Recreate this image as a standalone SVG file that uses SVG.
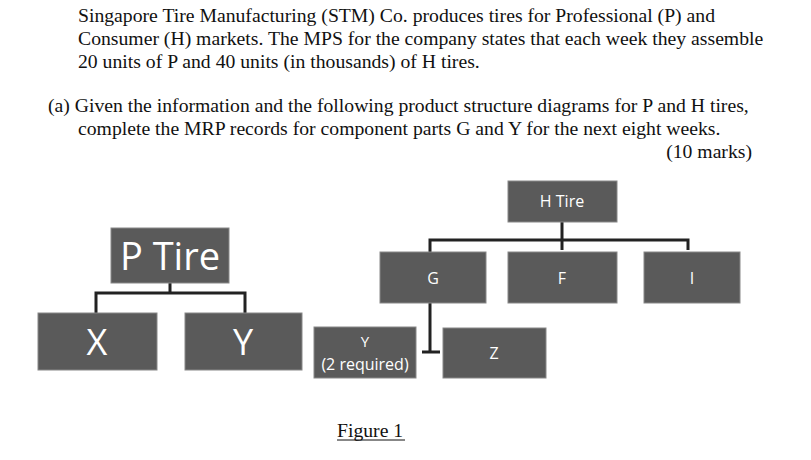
<svg xmlns="http://www.w3.org/2000/svg" width="811" height="460" viewBox="0 0 811 460">
<style>
.t{font-family:"Liberation Serif",serif;font-size:19.7px;fill:#111}
.b{fill:#5a5a5a;stroke:#888;stroke-width:1}
.l{font-family:"Open Sans","DejaVu Sans",sans-serif;fill:#fff;text-anchor:middle}
.c{stroke:#222;stroke-width:3;fill:none}
</style>
<rect width="811" height="460" fill="#fff"/>
<text class="t" x="78" y="22">Singapore Tire Manufacturing (STM) Co. produces tires for Professional (P) and</text>
<text class="t" x="78" y="45">Consumer (H) markets.  The MPS for the company states that each week they assemble</text>
<text class="t" x="78" y="68">20 units of P and 40 units (in thousands) of H tires.</text>
<text class="t" x="48" y="112">(a)  Given the information and the following product structure diagrams for P and H tires,</text>
<text class="t" x="78" y="135">complete the MRP records for component parts G and Y for the next eight weeks.</text>
<text class="t" x="752" y="158" text-anchor="end">(10 marks)</text>
<g id="connectors">
<path class="c" d="M170 283V293M96 313V293H245V313"/>
<path class="c" d="M562 222V250M430 252V240H688V250"/>
<path class="c" d="M430 303V352M422 352H440"/>
</g>
<g id="ptire"><rect class="b" x="111" y="228" width="118" height="55"/><text class="l" x="170" y="270" font-size="38">P Tire</text></g>
<g id="x"><rect class="b" x="38" y="313" width="119" height="57"/><text class="l" x="97" y="355" font-size="36">X</text></g>
<g id="y1"><rect class="b" x="185" y="313" width="117" height="57"/><text class="l" x="243" y="355" font-size="36">Y</text></g>
<g id="htire"><rect class="b" x="508" y="181" width="109" height="41"/><text class="l" x="562" y="207" font-size="16">H Tire</text></g>
<g id="g"><rect class="b" x="380" y="252" width="106" height="51"/><text class="l" x="433" y="284" font-size="16">G</text></g>
<g id="f"><rect class="b" x="508" y="252" width="109" height="51"/><text class="l" x="562" y="284" font-size="16">F</text></g>
<g id="i"><rect class="b" x="644" y="252" width="96" height="51"/><text class="l" x="692" y="284" font-size="16">I</text></g>
<g id="y2"><rect class="b" x="314" y="327" width="102" height="51"/><text class="l" x="365" y="347" font-size="15">Y</text><text class="l" x="365" y="370" font-size="16">(2 required)</text></g>
<g id="z"><rect class="b" x="443" y="328" width="103" height="50"/><text class="l" x="494" y="359" font-size="16">Z</text></g>
<text class="t" x="337" y="437">Figure 1</text>
<line x1="337" y1="440" x2="405" y2="440" stroke="#111" stroke-width="1"/>
</svg>
